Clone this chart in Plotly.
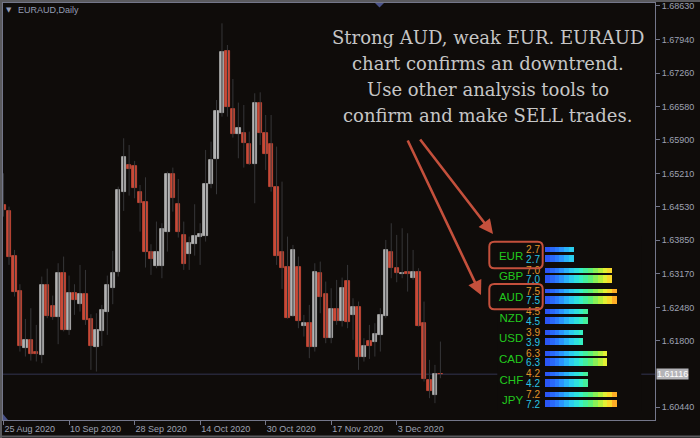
import pandas as pd
import plotly.graph_objects as go
from plotly.colors import sample_colorscale

# ---------------- data ----------------
dates = [d.strftime("%Y-%m-%d") for d in pd.bdate_range("2020-08-25", "2020-12-15")]

opens = [
    1.64570, 1.64448, 1.63536, 1.62816, 1.61646, 1.61816, 1.61564, 1.61510, 1.62938, 1.62510,
    1.62292, 1.63176, 1.62020, 1.62766, 1.62544, 1.62746, 1.62238, 1.61680, 1.62000, 1.62394,
    1.62870, 1.63210, 1.64842, 1.65386, 1.65366, 1.64842, 1.64624, 1.63618, 1.63332, 1.63332,
    1.64026, 1.65209, 1.64584, 1.63958, 1.63577, 1.63781, 1.63924, 1.63944, 1.64998, 1.65502,
    1.66454, 1.67712, 1.66522, 1.66012, 1.66046, 1.65821, 1.65406, 1.66658, 1.66032, 1.65808,
    1.64944, 1.63618, 1.63312, 1.62312, 1.63298, 1.62108, 1.62156, 1.61666, 1.63190, 1.62746,
    1.61850, 1.62448, 1.62210, 1.63020, 1.62326, 1.62482, 1.61462, 1.61796, 1.61782, 1.61918,
    1.62306, 1.63618, 1.63292, 1.63156, 1.63196, 1.63074, 1.63210, 1.62156, 1.61000, 1.60694,
    1.61130]
highs = [
    1.65216, 1.64536, 1.63652, 1.62952, 1.62244, 1.62462, 1.62122, 1.63108, 1.63270, 1.62720,
    1.63380, 1.63516, 1.63128, 1.62952, 1.63346, 1.63244, 1.62340, 1.62360, 1.62530, 1.63128,
    1.63632, 1.64944, 1.65930, 1.65794, 1.65468, 1.64978, 1.65134, 1.63768, 1.64230, 1.64196,
    1.65250, 1.65332, 1.65100, 1.64230, 1.63924, 1.64584, 1.64196, 1.65692, 1.65862, 1.66712,
    1.68276, 1.67834, 1.67140, 1.66658, 1.66610, 1.66066, 1.66848, 1.66868, 1.66406, 1.66406,
    1.65760, 1.65046, 1.63924, 1.63754, 1.63516, 1.62326, 1.62530, 1.63380, 1.63414, 1.63006,
    1.62870, 1.63040, 1.63088, 1.63346, 1.62666, 1.62598, 1.61850, 1.62122, 1.62156, 1.62462,
    1.63856, 1.64196, 1.63958, 1.64094, 1.63992, 1.63652, 1.63278, 1.62598, 1.61408, 1.61306,
    1.61782]
lows = [
    1.64332, 1.63346, 1.62700, 1.61578, 1.61476, 1.61394, 1.61374, 1.61340, 1.62258, 1.62226,
    1.61728, 1.61990, 1.61918, 1.62326, 1.62394, 1.62122, 1.61204, 1.61170, 1.61694, 1.61918,
    1.62544, 1.63108, 1.64448, 1.64760, 1.64706, 1.64026, 1.63292, 1.63142, 1.63278, 1.63074,
    1.63618, 1.64434, 1.63904, 1.63244, 1.63244, 1.63536, 1.63346, 1.63822, 1.64910, 1.64788,
    1.66372, 1.66372, 1.65944, 1.65522, 1.65332, 1.65386, 1.64604, 1.65794, 1.65284, 1.64842,
    1.63346, 1.62856, 1.62250, 1.62292, 1.62054, 1.61884, 1.61442, 1.61578, 1.62360, 1.61748,
    1.61748, 1.62122, 1.62088, 1.62054, 1.61816, 1.61204, 1.61374, 1.61428, 1.61476, 1.61578,
    1.62258, 1.63074, 1.62992, 1.63074, 1.62802, 1.63040, 1.62088, 1.60966, 1.60626, 1.60524,
    1.61034]
closes = [
    1.64468, 1.63516, 1.62788, 1.61700, 1.61816, 1.61530, 1.61522, 1.62938, 1.62312, 1.62292,
    1.63176, 1.62020, 1.62766, 1.62632, 1.62746, 1.62226, 1.61694, 1.62020, 1.62428, 1.62938,
    1.63176, 1.64876, 1.65542, 1.65298, 1.64924, 1.64604, 1.63604, 1.63468, 1.63618, 1.64080,
    1.65209, 1.64720, 1.64026, 1.63360, 1.63795, 1.63944, 1.63978, 1.64992, 1.65488, 1.66488,
    1.67698, 1.66576, 1.66012, 1.66148, 1.65828, 1.65406, 1.66658, 1.66032, 1.65617, 1.64930,
    1.63536, 1.63278, 1.62258, 1.63652, 1.62210, 1.62156, 1.61666, 1.63196, 1.62700, 1.61850,
    1.62448, 1.62204, 1.62870, 1.62190, 1.62482, 1.61476, 1.61694, 1.61700, 1.61938, 1.62326,
    1.63652, 1.63292, 1.63190, 1.63176, 1.63169, 1.63196, 1.62108, 1.61014, 1.60776, 1.61116,
    1.61116]

tick_dates = ["2020-08-25", "2020-09-10", "2020-09-28", "2020-10-14",
              "2020-10-30", "2020-11-17", "2020-12-03"]
tick_labels = ["25 Aug 2020", "10 Sep 2020", "28 Sep 2020", "14 Oct 2020",
               "30 Oct 2020", "17 Nov 2020", "3 Dec 2020"]
price_ticks = [1.68630, 1.67940, 1.67260, 1.66580, 1.65900, 1.65210,
               1.64530, 1.63850, 1.63170, 1.62480, 1.61800, 1.60440]
last_price = 1.61116

currencies = ["EUR", "GBP", "AUD", "NZD", "USD", "CAD", "CHF", "JPY"]
strength_top = [2.7, 7.0, 7.5, 4.5, 3.9, 6.3, 4.2, 7.2]
strength_bottom = [2.7, 7.0, 7.5, 4.5, 3.9, 6.3, 4.2, 7.2]

headline = ["Strong AUD, weak EUR. EURAUD", "chart confirms an downtrend.",
            "Use other analysis tools to", "confirm and make SELL trades."]

# ---------------- styling ----------------
BG = "#0f0c0a"
BULL = "#b4b4b4"
BEAR = "#c94a38"
WICK = "#363638"
AXIS = "#74778a"
TXT = "#9ea2b2"
RED = "#c4503c"
FONT = "Liberation Sans"

# plot area in pixels (for overlay decorations)
PX0, PX1, PY0, PY1 = 3, 655, 3, 420


def P(px, py):
    return (px - PX0) / (PX1 - PX0), (PY1 - py) / (PY1 - PY0)


fig = go.Figure()

# wicks
wx, wy = [], []
for d, h, l in zip(dates, highs, lows):
    wx += [d, d, None]
    wy += [l, h, None]
fig.add_trace(go.Scatter(x=wx, y=wy, mode="lines", line=dict(color=WICK, width=1),
                         hoverinfo="skip", showlegend=False))

# bodies
bases = [min(o, c) for o, c in zip(opens, closes)]
heights = [abs(c - o) for o, c in zip(opens, closes)]
cols = [BULL if c > o else BEAR for o, c in zip(opens, closes)]
fig.add_trace(go.Bar(x=dates, y=heights, base=bases, width=0.8,
                     marker=dict(color=cols, line=dict(color=cols, width=0.8)),
                     showlegend=False))

# ---------------- currency strength meter ----------------
scale = [[0.0, "#2a4cf5"], [0.15, "#2a86ff"], [0.26, "#2ac8f5"], [0.36, "#30f0d0"],
         [0.46, "#50f080"], [0.56, "#a8f040"], [0.64, "#f0f030"], [0.70, "#ffc828"],
         [0.76, "#ff8a24"], [1.0, "#ff3020"]]


def meter_trace(values, offset, thickness):
    ys, xs, bs, ws, cs = [], [], [], [], []
    for r, v in enumerate(values):
        nseg = int(-(-v * 2 // 1))
        for k in range(nseg):
            ys.append(r + offset)
            xs.append(0.5)
            bs.append(k * 0.5)
            ws.append(thickness)
            cs.append(sample_colorscale(scale, (k * 0.5 + 0.25) / 10)[0])
    return go.Bar(y=ys, x=xs, base=bs, width=ws, orientation="h",
                  marker=dict(color=cs, line=dict(width=0)),
                  xaxis="x2", yaxis="y2", showlegend=False, hoverinfo="skip")


fig.add_trace(meter_trace(strength_top, -0.338, 0.227))
fig.add_trace(meter_trace(strength_bottom, 0.087, 0.367))

rows = list(range(len(currencies)))
fig.add_trace(go.Scatter(x=[-2.3] * len(rows), y=rows, text=currencies, mode="text",
                         textposition="middle left", cliponaxis=False,
                         textfont=dict(family=FONT, size=11.5, color="#22c81e"),
                         xaxis="x2", yaxis="y2", showlegend=False, hoverinfo="skip"))
fig.add_trace(go.Scatter(x=[-0.55] * len(rows), y=[r - 0.29 for r in rows],
                         text=[f"{v:.1f}" for v in strength_top], mode="text",
                         textposition="middle left", cliponaxis=False,
                         textfont=dict(family=FONT, size=10, color="#e0962a"),
                         xaxis="x2", yaxis="y2", showlegend=False, hoverinfo="skip"))
fig.add_trace(go.Scatter(x=[-0.55] * len(rows), y=[r + 0.17 for r in rows],
                         text=[f"{v:.1f}" for v in strength_bottom], mode="text",
                         textposition="middle left", cliponaxis=False,
                         textfont=dict(family=FONT, size=10, color="#2ac4e4"),
                         xaxis="x2", yaxis="y2", showlegend=False, hoverinfo="skip"))

shapes = []


def rounded_box(x0, y0, x1, y1, r=5):
    pts = [("M", x0 + r, y0), ("L", x1 - r, y0), ("Q", x1, y0), ("", x1, y0 + r),
           ("L", x1, y1 - r), ("Q", x1, y1), ("", x1 - r, y1), ("L", x0 + r, y1),
           ("Q", x0, y1), ("", x0, y1 - r), ("L", x0, y0 + r), ("Q", x0, y0), ("", x0 + r, y0)]
    s = ""
    for cmd, px, py in pts:
        a, b = P(px, py)
        s += f"{cmd}{a:.5f},{b:.5f} "
    return s + "Z"


for (x0, y0, x1, y1) in [(489.3, 241.7, 542.7, 268.3), (489.3, 284.0, 542.7, 309.3)]:
    shapes.append(dict(type="path", xref="paper", yref="paper", path=rounded_box(x0, y0, x1, y1),
                       line=dict(color=RED, width=2)))

# last price line
shapes.append(dict(type="line", xref="paper", yref="y", x0=0, x1=1, y0=last_price, y1=last_price,
                   line=dict(color="#262638", width=1.5), layer="below"))

# window frame
for (a, b, c, d) in [(0, 1, 700, 1), (1, 0, 1, 438), (0, 436.5, 700, 436.5)]:
    p0 = P(a, b)
    p1 = P(c, d)
    shapes.append(dict(type="line", xref="paper", yref="paper", x0=p0[0], y0=p0[1], x1=p1[0], y1=p1[1],
                       line=dict(color="#5a5a5e", width=2)))

# small chart-shift markers
tri = [P(375, 3), P(384, 3), P(379.5, 7.5)]
shapes.append(dict(type="path", xref="paper", yref="paper",
                   path=f"M{tri[0][0]},{tri[0][1]} L{tri[1][0]},{tri[1][1]} L{tri[2][0]},{tri[2][1]} Z",
                   fillcolor="#4a5288", line=dict(width=0)))
tri2 = [P(3, 414), P(3, 420), P(8, 420)]
shapes.append(dict(type="path", xref="paper", yref="paper",
                   path=f"M{tri2[0][0]},{tri2[0][1]} L{tri2[1][0]},{tri2[1][1]} L{tri2[2][0]},{tri2[2][1]} Z",
                   fillcolor="#4a5288", line=dict(width=0)))

annotations = []
# headline text
for i, line in enumerate(headline):
    ax_, ay_ = P(487.5, 37 + 26 * i)
    annotations.append(dict(xref="paper", yref="paper", x=ax_, y=ay_, text=line, showarrow=False,
                            xanchor="center", yanchor="middle",
                            font=dict(family="DejaVu Serif", size=18, color="#c6c6c6")))

# arrows
for (tx, ty, sx, sy) in [(493, 234, 419, 138), (481, 295, 407, 139)]:
    a, b = P(tx, ty)
    annotations.append(dict(xref="paper", yref="paper", x=a, y=b, ax=sx - tx, ay=sy - ty,
                            showarrow=True, arrowhead=2, arrowsize=1.1, arrowwidth=2.6,
                            arrowcolor=RED, text=""))

# title
a, b = P(16, 10)
annotations.append(dict(xref="paper", yref="paper", x=a, y=b, text="EURAUD,Daily", showarrow=False,
                        xanchor="left", yanchor="middle", font=dict(family=FONT, size=9, color="#949cb4")))
a, b = P(9, 10)
annotations.append(dict(xref="paper", yref="paper", x=a, y=b, text="▼", showarrow=False,
                        xanchor="center", yanchor="middle", font=dict(family="DejaVu Sans", size=7, color="#949cb4")))

# last price label
annotations.append(dict(xref="paper", yref="y", x=1.0015, y=last_price, text="1.61116", showarrow=False,
                        xanchor="left", yanchor="middle", bgcolor="#b4b4b8", borderpad=0,
                        font=dict(family=FONT, size=9, color="#ffffff")))

# meter axes: 9.6 px per strength unit, range includes the label area on the left
M_LEFT, M_RIGHT = 545.3 - 5 * 9.6, 641.3

fig.update_layout(
    width=700, height=438,
    margin=dict(l=PX0, r=700 - PX1, t=PY0, b=438 - PY1, autoexpand=False),
    paper_bgcolor=BG, plot_bgcolor=BG,
    barmode="overlay", bargap=0,
    showlegend=False,
    shapes=shapes, annotations=annotations,
    xaxis=dict(type="category", categoryorder="array", categoryarray=dates,
               range=[-0.1, 119.3], showgrid=False, zeroline=False,
               tickmode="array", tickvals=tick_dates, ticktext=tick_labels,
               ticks="outside", ticklen=4, tickcolor=AXIS, ticklabelposition="outside right",
               tickfont=dict(family=FONT, size=9, color=TXT),
               showline=True, linecolor=AXIS, linewidth=1, mirror=True),
    yaxis=dict(side="right", range=[1.60181, 1.68691], showgrid=False, zeroline=False,
               tickmode="array", tickvals=price_ticks, ticktext=[f"{v:.5f}" for v in price_ticks],
               ticks="outside", ticklen=4, tickcolor=AXIS,
               tickfont=dict(family=FONT, size=9, color=TXT),
               showline=True, linecolor=AXIS, linewidth=1, mirror=True),
    xaxis2=dict(domain=[P(M_LEFT, 0)[0], P(M_RIGHT, 0)[0]], range=[-5, 10], visible=False,
                anchor="y2", fixedrange=True),
    yaxis2=dict(domain=[P(0, 411)[1], P(0, 236)[1]], range=[7.454, -1.0], visible=False,
                anchor="x2", fixedrange=True),
)

fig.write_html("out.html", config={"displayModeBar": False},
               post_script="document.body.style.margin='0';document.body.style.overflow='hidden';")
